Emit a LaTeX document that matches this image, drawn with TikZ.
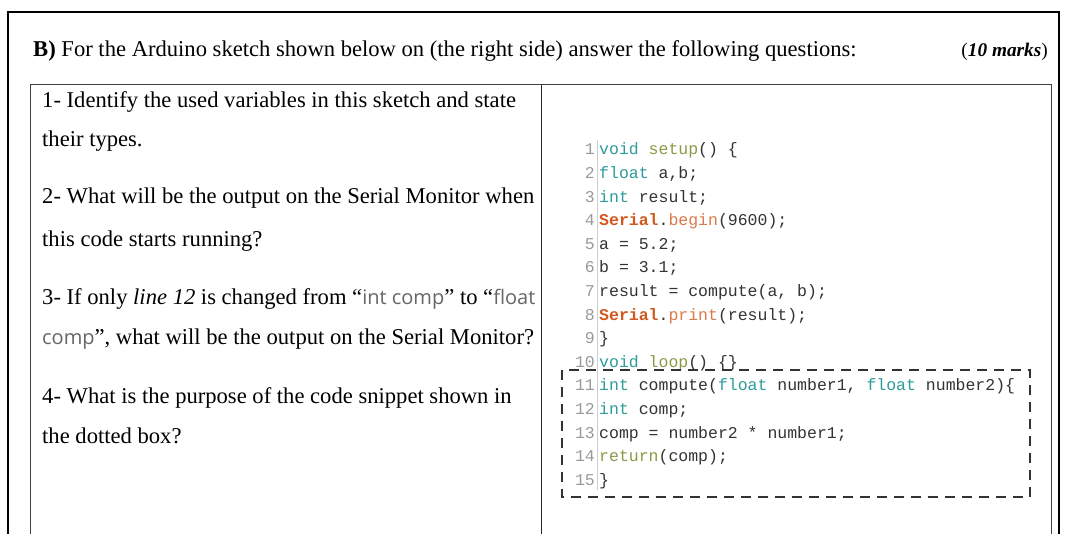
\documentclass[tikz,border=0pt]{standalone}
\usepackage{fontspec}
\setmainfont{Liberation Serif}
\setmonofont{Liberation Mono}
\newfontfamily\lightsans{Open Sans}
\definecolor{kw}{HTML}{2E9C9C}
\definecolor{fn}{HTML}{8C9A45}
\definecolor{ser}{HTML}{D2591E}
\definecolor{lnum}{HTML}{9A9A9A}
\definecolor{codetxt}{HTML}{333333}
\newcommand{\K}[1]{\textcolor{kw}{#1}}
\newcommand{\F}[1]{\textcolor{fn}{#1}}
\newcommand{\Sr}[1]{\textcolor{ser}{\bfseries #1}}
\newcommand{\Sm}[1]{\textcolor{ser!80}{#1}}
\newcommand{\LS}[1]{{\lightsans\fontsize{20}{22}\selectfont\color{black!60}#1}}
\begin{document}
\begin{tikzpicture}[x=1pt,y=-1pt,
  q/.style={anchor=base west,font=\fontsize{22.6}{25}\selectfont,inner sep=0pt},
  ln/.style={anchor=base east,font=\ttfamily\fontsize{16.5}{18}\selectfont,text=lnum,inner sep=0pt},
  cd/.style={anchor=base west,font=\ttfamily\fontsize{16.5}{18}\selectfont,text=codetxt,inner sep=0pt}]
\useasboundingbox (0,0) rectangle (1080,534);
\fill[white] (0,0) rectangle (1080,534);
\draw[line width=1.8pt] (8,534) -- (8,12) -- (1059,12) -- (1059,534);
\draw[line width=1pt,black!75] (30,534) -- (30,85) -- (1051,85) -- (1051,534);
\draw[line width=1pt,black!85] (541,85) -- (541,534);
\node[q] (title) at (33,57) {\textbf{B)} For the Arduino sketch shown below on (the right side) answer the following questions:};
\node[q,anchor=base east,font=\fontsize{19.3}{22}\selectfont] (marks) at (1048,57) {(\textbf{\itshape 10 marks})};
\node[q] (q1a) at (42,108) {1- Identify the used variables in this sketch and state};
\node[q] (q1b) at (42,147) {their types.};
\node[q] (q2a) at (42,204) {2- What will be the output on the Serial Monitor when};
\node[q] (q2b) at (42,247) {this code starts running?};
\node[q] (q3a) at (42,305) {3- If only \textit{line 12} is changed from “\LS{int comp}” to “\LS{float}};
\node[q] (q3b) at (42,345) {\LS{comp}”, what will be the output on the Serial Monitor?};
\node[q] (q4a) at (42,404) {4- What is the purpose of the code snippet shown in};
\node[q] (q4b) at (42,444) {the dotted box?};
% code
\draw[lnum!50,line width=0.8pt] (597,140) -- (597,490);
\foreach \i/\t in {
 1/{\K{void} \F{setup}() \{},
 2/{\K{float} a,b;},
 3/{\K{int} result;},
 4/{\Sr{Serial}.\Sm{begin}(9600);},
 5/{a = 5.2;},
 6/{b = 3.1;},
 7/{result = compute(a, b);},
 8/{\Sr{Serial}.\Sm{print}(result);},
 9/{\}},
 10/{\K{void} \F{loop}() \{\}},
 11/{\K{int} compute(\K{float} number1, \K{float} number2)\{},
 12/{\K{int} comp;},
 13/{comp = number2 * number1;},
 14/{\F{return}(comp);},
 15/{\}}}{
  \node[ln] (n\i) at (595,{155+23.6*(\i-1)}) {\i};
  \node[cd] (c\i) at (599,{155+23.6*(\i-1)}) {\t};
}
\draw[line width=1.6pt,black!80,dash pattern=on 10pt off 7pt] (562,370) rectangle (1030,497);
\end{tikzpicture}
\end{document}
